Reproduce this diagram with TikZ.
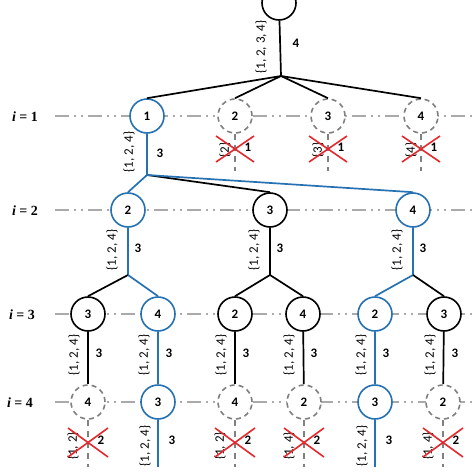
\documentclass[tikz,border=0pt]{standalone}
\usepackage{fontspec}
\setmainfont{Carlito}
\newfontfamily\labfont{Liberation Serif}
\usepackage{tikz}

\definecolor{pathblue}{RGB}{38,113,178}
\definecolor{cutgray}{RGB}{128,128,128}
\definecolor{linegray}{RGB}{170,170,170}
\definecolor{crossred}{RGB}{228,40,44}

\begin{document}
\begin{tikzpicture}[x=1pt,y=-1pt,
    main_node/.style={circle,draw,line width=1.6pt,minimum size=34pt,inner sep=0pt,fill=white,font=\fontsize{13}{13}\selectfont\bfseries},
    best_node/.style={main_node,draw=pathblue},
    cut_node/.style={main_node,draw=cutgray,dash pattern=on 5pt off 4pt},
    set_label/.style={rotate=90,inner sep=0pt,font=\fontsize{13}{13}\selectfont},
    cost_label/.style={inner sep=0pt,font=\fontsize{13}{13}\selectfont\bfseries},
    level_label/.style={inner sep=0pt,font=\labfont\fontsize{14}{14}\selectfont\bfseries},
    level_line/.style={draw=linegray,line width=1.4pt,dash pattern=on 14pt off 5pt on 2pt off 5pt on 2pt off 5pt},
    tree_edge/.style={line width=1.7pt},
    best_edge/.style={tree_edge,draw=pathblue},
    cut_edge/.style={tree_edge,draw=cutgray,dash pattern=on 6pt off 5pt},
    cross/.style={draw=crossred,line width=1.6pt}]

    \useasboundingbox (0,0) rectangle (474,474);

    \draw[level_line] (55,116) -- (474,116);
    \draw[level_line] (55,210) -- (474,210);
    \draw[level_line] (55,314) -- (474,314);
    \draw[level_line] (55,402) -- (474,402);
    \node[level_label] (i1) at (25,117) {{\itshape i} = 1};
    \node[level_label] (i2) at (25,211) {{\itshape i} = 2};
    \node[level_label] (i3) at (22,315) {{\itshape i} = 3};
    \node[level_label] (i4) at (20,403) {{\itshape i} = 4};

    \node[main_node] (r) at (279,3) {};
    \coordinate (j0) at (281,76);
    \draw[tree_edge] (r) -- (j0);
    \node[set_label] (s0) at (261,47) {\{1, 2, 3, 4\}};
    \node[cost_label] (w0) at (296,43) {4};

    \node[best_node] (a1) at (147,116) {1};
    \node[cut_node] (a2) at (235,116) {2};
    \node[cut_node] (a3) at (328,116) {3};
    \node[cut_node] (a4) at (421,116) {4};
    \draw[tree_edge] (j0) -- (a1.north);
    \draw[tree_edge] (j0) -- (a2.north);
    \draw[tree_edge] (j0) -- (a3.north);
    \draw[tree_edge] (j0) -- (a4.north);

    \coordinate (j1) at (147,175);
    \draw[best_edge] (a1) -- (j1);
    \node[set_label] (s1) at (129,152) {\{1, 2, 4\}};
    \node[cost_label] (w1) at (160,153) {3};
    \foreach \n/\x in {2/235, 3/328, 4/421} {
        \coordinate (k\n) at (\x,171);
        \draw[cut_edge] (a\n) -- (k\n);
        \node[set_label] (s\n) at (\x-10,150) {\{\n\}};
        \node[cost_label] (w\n) at (\x+13,147) {1};
        \draw[cross] (\x-19,136) -- (\x+19,162) (\x-19,162) -- (\x+19,136);
    }

    \node[best_node] (b2) at (128,210) {2};
    \node[main_node] (b3) at (270,210) {3};
    \node[best_node] (b4) at (413,210) {4};
    \draw[best_edge] (j1) -- (b2.north);
    \draw[tree_edge] (j1) -- (b3.north);
    \draw[best_edge] (j1) -- (b4.north);

    \coordinate (j2) at (128,275);
    \coordinate (j3) at (270,275);
    \coordinate (j4) at (413,275);
    \draw[best_edge] (b2) -- (j2);
    \draw[tree_edge] (b3) -- (j3);
    \draw[best_edge] (b4) -- (j4);
    \foreach \n/\x in {2/128, 3/270, 4/413} {
        \node[set_label] (t\n) at (\x-16,250) {\{1, 2, 4\}};
        \node[cost_label] (v\n) at (\x+10,248) {3};
    }

    \node[main_node] (c1) at (88,314) {3};
    \node[best_node] (c2) at (158,314) {4};
    \node[main_node] (c3) at (235,314) {2};
    \node[main_node] (c4) at (303,314) {4};
    \node[best_node] (c5) at (375,314) {2};
    \node[main_node] (c6) at (444,314) {3};
    \draw[tree_edge] (j2) -- (c1.north);
    \draw[best_edge] (j2) -- (c2.north);
    \draw[tree_edge] (j3) -- (c3.north);
    \draw[tree_edge] (j3) -- (c4.north);
    \draw[best_edge] (j4) -- (c5.north);
    \draw[tree_edge] (j4) -- (c6.north);

    \node[cut_node] (d1) at (88,402) {4};
    \node[best_node] (d2) at (158,402) {3};
    \node[cut_node] (d3) at (235,402) {4};
    \node[cut_node] (d4) at (304,402) {2};
    \node[best_node] (d5) at (375,402) {3};
    \node[cut_node] (d6) at (443,402) {2};
    \draw[tree_edge] (c1) -- (d1);
    \draw[best_edge] (c2) -- (d2);
    \draw[tree_edge] (c3) -- (d3);
    \draw[tree_edge] (c4) -- (d4);
    \draw[best_edge] (c5) -- (d5);
    \draw[tree_edge] (c6) -- (d6);
    \foreach \n/\x in {1/88, 2/158, 3/235, 4/303, 5/375, 6/444} {
        \node[set_label] (u\n) at (\x-14,355) {\{1, 2, 4\}};
        \node[cost_label] (x\n) at (\x+11,353) {3};
    }

    \foreach \n/\x in {2/158, 5/375} {
        \coordinate (e\n) at (\x,467);
        \draw[best_edge] (d\n) -- (e\n);
        \node[set_label] (p\n) at (\x-13,446) {\{1, 2, 4\}};
        \node[cost_label] (q\n) at (\x+14,440) {3};
    }
    \foreach \n/\x/\s in {1/88/2, 3/235/2, 4/304/4, 6/443/4} {
        \coordinate (e\n) at (\x,467);
        \draw[cut_edge] (d\n) -- (e\n);
        \node[set_label] (p\n) at (\x-15,446) {\{1, \s\}};
        \node[cost_label] (q\n) at (\x+13,440) {2};
        \draw[cross] (\x-20,428) -- (\x+20,457) (\x-20,457) -- (\x+20,428);
    }
\end{tikzpicture}
\end{document}
